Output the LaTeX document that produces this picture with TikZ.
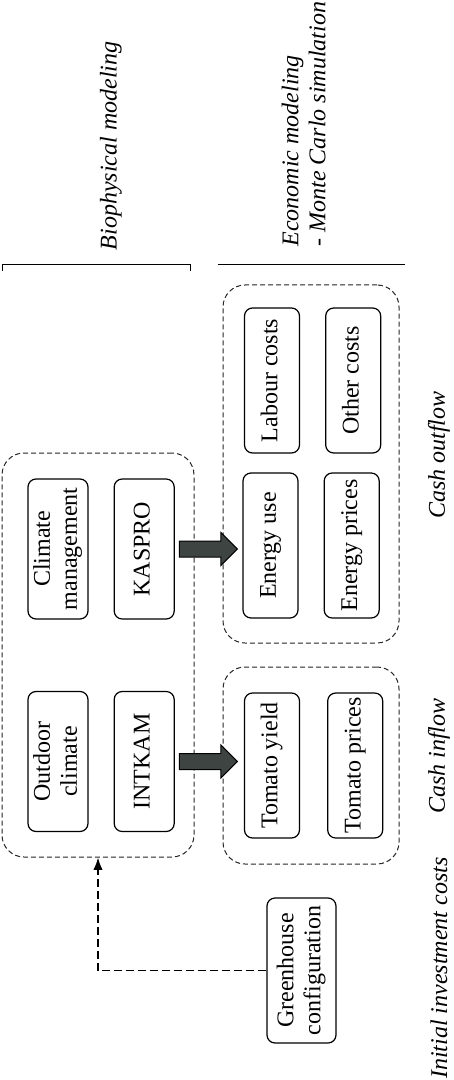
\documentclass[tikz,border=0pt]{standalone}
\usepackage{fontspec}
\setmainfont{Liberation Serif}
\usepackage{graphicx}
\usetikzlibrary{arrows.meta,positioning,shapes.arrows}
\definecolor{flowgray}{RGB}{62,68,66}
\newcommand{\vt}[1]{\rotatebox{90}{\begin{tabular}{@{}c@{}}#1\end{tabular}}}
\newcommand{\vtl}[1]{\rotatebox{90}{\begin{tabular}{@{}l@{}}#1\end{tabular}}}

\begin{document}
\begin{tikzpicture}[x=0.5pt,y=-0.5pt,>=Latex,font=\fontsize{12}{13.5}\selectfont,
model/.style={draw,rounded corners=4pt,line width=0.6pt,minimum width=30pt,minimum height=70pt,inner sep=0pt},
cost/.style={model,minimum width=27.5pt,minimum height=72.5pt},
group/.style={draw=black!85,rounded corners=11pt,line width=0.5pt,dash pattern=on 2.5pt off 1.5pt,inner sep=0pt},
bigflow/.style={single arrow,draw,fill=flowgray,line width=0.5pt,inner sep=3.75pt,minimum height=29pt,single arrow head extend=4.25pt,single arrow tip angle=90},
feed/.style={->,line width=0.7pt,dash pattern=on 4pt off 2pt},
lbl/.style={font=\fontsize{12}{13.5}\selectfont\itshape,inner sep=0pt},
rule/.style={line width=0.5pt}]
\useasboundingbox (0,0) rectangle (454,1080);
% dashed groups
\node[group,minimum width=96pt,minimum height=202pt] (bio) at (98,655) {};
\node[group,minimum width=88pt,minimum height=179pt] (outflow) at (311,464) {};
\node[group,minimum width=88pt,minimum height=98.5pt] (inflow) at (311,765.5) {};
% biophysical models
\node[model] (clim) at (58,549) {\vt{Climate\\management}};
\node[model,right=12.5pt of clim] (kaspro) {\vt{KASPRO}};
\node[model] (outdoor) at (58,761.5) {\vt{Outdoor\\climate}};
\node[model,right=12.5pt of outdoor] (intkam) {\vt{INTKAM}};
% economic items
\node[cost] (labour) at (272,380.5) {\vt{Labour costs}};
\node[cost,right=12.5pt of labour] (other) {\vt{Other costs}};
\node[cost] (euse) at (270.5,545.5) {\vt{Energy use}};
\node[cost,right=12.5pt of euse] (eprice) {\vt{Energy prices}};
\node[cost] (tyield) at (272,765.5) {\vt{Tomato yield}};
\node[cost,right=13.5pt of tyield] (tprice) {\vt{Tomato prices}};
\node[model,minimum width=34.5pt,minimum height=72.5pt] (config) at (301.5,970.5) {\vt{Greenhouse\\configuration}};
% flows
\node[bigflow,anchor=tail] (kflow) at ([xshift=2pt]kaspro.east) {};
\node[bigflow,anchor=tail] (iflow) at ([xshift=2pt]intkam.east) {};
\draw[feed] (config.west) -| (bio.south);
% headings
\node[lbl] (bioh) at (111,146) {\rotatebox{90}{Biophysical modeling}};
\node[lbl,anchor=south] (ecoh) at (306.5,247) {\vtl{Economic modeling\\- Monte Carlo simulation}};
\draw[rule] (2,271) -- (2,265) -- (190,265) -- (190,271);
\draw[rule] (218,265) -- (405,265);
\node[lbl] (outh) at (439,455) {\rotatebox{90}{Cash outflow}};
\node[lbl] (inh) at (439,756) {\rotatebox{90}{Cash inflow}};
\node[lbl,anchor=north] (invh) at (439,857) {\rotatebox{90}{Initial investment costs}};
\end{tikzpicture}
\end{document}
